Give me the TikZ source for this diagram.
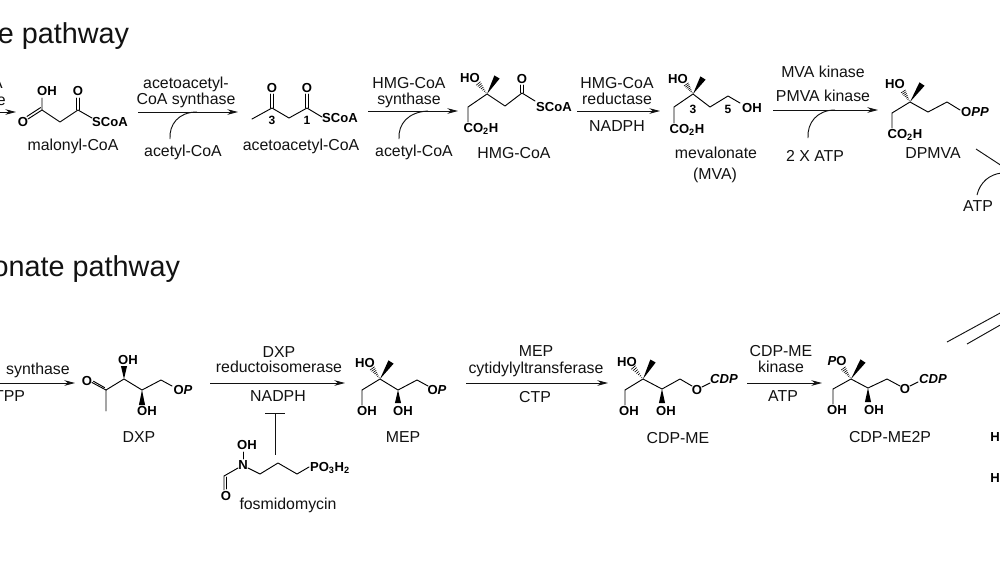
\documentclass[tikz,border=0pt]{standalone}
\usepackage{fontspec}
\setmainfont{Liberation Sans}
\usetikzlibrary{calc,arrows.meta}
\definecolor{ink}{gray}{0.07}
\tikzset{
  lbl/.style={inner sep=0pt,text=ink,font=\fontsize{11.9}{13}\selectfont,text height=0.716em,text depth=0pt},
  atom/.style={inner sep=0pt,text=black,font=\fontsize{9.8}{11}\selectfont\bfseries,text height=0.716em,text depth=0pt},
  smallnum/.style={inner sep=0pt,text=black,font=\fontsize{9}{11}\selectfont\bfseries,text height=0.716em,text depth=0pt},
  titletext/.style={inner sep=0pt,text=ink,font=\fontsize{21.6}{25}\selectfont,anchor=base west},
  bond/.style={line width=0.7pt,black,line cap=round,line join=round},
  rxn/.style={line width=0.7pt,ink,-{Stealth[length=8pt,width=4.2pt]}},
  cofactor/.style={line width=0.7pt,ink},
}
\newcommand{\wedgeb}[2]{\fill[black] #1 -- ($#2!2.3pt!90:#1$) -- ($#2!2.3pt!-90:#1$) -- cycle;}
\newcommand{\hashb}[2]{\foreach \hh in {0.12,0.26,0.40,0.54,0.68,0.82,0.96}{
  \draw[line width=0.45pt,black] ($#1!\hh!#2!{\hh*2.2pt}!90:#2$) -- ($#1!\hh!#2!{\hh*2.2pt}!-90:#2$);}}
\begin{document}
\begin{tikzpicture}[x=0.75pt,y=-0.75pt]
\useasboundingbox (0,0) rectangle (1000,562);
\clip (0,0) rectangle (1000,562);
\fill[white] (0,0) rectangle (1000,562);

% titles
\node[titletext] (t1) at (-2.5,43) {e pathway};
\node[titletext] (t2) at (-7.6,276) {onate pathway};

% ---------- upper row
\node[lbl,anchor=east] (l0a) at (3,84) {A};
\node[lbl,anchor=east] (l0b) at (6,101) {e};
\coordinate (a0s) at (-5,112); \coordinate (a0e) at (16,112);
\draw[rxn] (a0s) -- (a0e);

% malonyl-CoA
\node[atom] (m1) at (47,91) {OH};
\node[atom] (m2) at (23,122) {O};
\node[atom] (m3) at (78,91) {O};
\node[atom] (m4) at (110,122) {SCoA};
\draw[bond] (42,98) -- (42,110) -- (60,122) -- (78,110) -- (92,118);
\draw[bond] (42,110) -- (28,119);
\draw[bond] (40.6,107.6) -- (27,116.4);
\draw[bond] (76.6,110) -- (76.6,98) (79.4,110) -- (79.4,98);
\node[lbl] (m5) at (73,146) {malonyl-CoA};

% acetoacetyl-CoA synthase
\coordinate (a1s) at (138,112); \coordinate (a1e) at (238,112);
\draw[rxn] (a1s) -- (a1e);
\node[lbl] (e1a) at (186,84) {acetoacetyl-};
\node[lbl] (e1b) at (186,100) {CoA synthase};
\node[lbl] (c1) at (183,152) {acetyl-CoA};
\coordinate (c1s) at (170,139); \coordinate (c1e) at (197,112);
\draw[cofactor] (c1s) .. controls (169,125) and (178,112) .. (c1e);

% acetoacetyl-CoA
\node[atom] (aa1) at (272,88) {O};
\node[atom] (aa2) at (307,88) {O};
\node[atom] (aa3) at (340,118) {SCoA};
\node[smallnum] (aa4) at (272,120) {3};
\node[smallnum] (aa5) at (307,120) {1};
\draw[bond] (252,119) -- (272,108) -- (289,118) -- (307,108) -- (322,117);
\draw[bond] (270.6,108) -- (270.6,94) (273.4,108) -- (273.4,94);
\draw[bond] (305.6,108) -- (305.6,94) (308.4,108) -- (308.4,94);
\node[lbl] (aa6) at (301,146) {acetoacetyl-CoA};

% HMG-CoA synthase
\coordinate (a2s) at (368,111); \coordinate (a2e) at (458,111);
\draw[rxn] (a2s) -- (a2e);
\node[lbl] (e2a) at (409,84) {HMG-CoA};
\node[lbl] (e2b) at (409,100) {synthase};
\node[lbl] (c2) at (414,152) {acetyl-CoA};
\coordinate (c2s) at (399,139); \coordinate (c2e) at (428,111);
\draw[cofactor] (c2s) .. controls (398,124) and (408,112) .. (c2e);

% HMG-CoA
\node[atom] (h1) at (470,78) {HO};
\node[atom] (h2) at (481,128) {CO\textsubscript{2}H};
\node[atom] (h3) at (522,79) {O};
\node[atom] (h4) at (554,107) {SCoA};
\wedgeb{(487,94)}{(497,77)}
\hashb{(487,94)}{(478,83)}
\draw[bond] (468,122) -- (468,107) -- (487,94) -- (505,106) -- (522,93) -- (535,101);
\draw[bond] (520.6,93) -- (520.6,85) (523.4,93) -- (523.4,85);
\node[lbl] (h5) at (514,154) {HMG-CoA};

% HMG-CoA reductase
\coordinate (a3s) at (577,111); \coordinate (a3e) at (660,111);
\draw[rxn] (a3s) -- (a3e);
\node[lbl] (e3a) at (617,84) {HMG-CoA};
\node[lbl] (e3b) at (617,100) {reductase};
\node[lbl] (c3) at (617,127) {NADPH};

% mevalonate
\node[atom] (v1) at (678,79) {HO};
\node[atom] (v2) at (687,129) {CO\textsubscript{2}H};
\node[atom] (v3) at (752,108) {OH};
\node[smallnum] (v4) at (693,109) {3};
\node[smallnum] (v5) at (728,109) {5};
\wedgeb{(693,94)}{(703,78)}
\hashb{(693,94)}{(686,84)}
\draw[bond] (674,123) -- (674,107) -- (693,94) -- (710,107) -- (728,96) -- (740,103);
\node[lbl] (v6) at (716,154) {mevalonate};
\node[lbl] (v7) at (715,175) {(MVA)};

% MVA kinase
\coordinate (a4s) at (773,110); \coordinate (a4e) at (878,110);
\draw[rxn] (a4s) -- (a4e);
\node[lbl] (e4a) at (823,73) {MVA kinase};
\node[lbl] (e4b) at (823,97) {PMVA kinase};
\node[lbl] (c4) at (815,157) {2 X ATP};
\coordinate (c4s) at (808,138); \coordinate (c4e) at (835,110);
\draw[cofactor] (c4s) .. controls (807,123) and (817,110) .. (c4e);

% DPMVA
\node[atom] (d1) at (895,84) {HO};
\node[atom] (d2) at (905,134) {CO\textsubscript{2}H};
\node[atom] (d3) at (975,112) {O\textit{PP}};
\wedgeb{(910,102)}{(922,84)}
\hashb{(910,102)}{(903,91)}
\draw[bond] (892,128) -- (892,113) -- (910,102) -- (928,112) -- (947,102) -- (960,110);
\node[lbl] (d4) at (933,154) {DPMVA};

\coordinate (a5s) at (976,149); \coordinate (a5e) at (1002,166);
\draw[cofactor] (a5s) -- (a5e);
\node[lbl] (c5) at (978,207) {ATP};
\coordinate (c5s) at (977,195); \coordinate (c5e) at (1002,173);
\draw[cofactor] (c5s) .. controls (980,182) and (990,174) .. (c5e);

% ---------- lower row
\coordinate (b0s) at (-5,383); \coordinate (b0e) at (75,383);
\draw[rxn] (b0s) -- (b0e);
\node[lbl] (f0a) at (38,370) {synthase};
\node[lbl] (f0b) at (9.5,397) {TPP};

% DXP
\node[atom] (x1) at (87,381) {O};
\node[atom] (x2) at (128,360) {OH};
\node[atom] (x3) at (147,411) {OH};
\node[atom] (x4) at (183,390) {O\textit{P}};
\wedgeb{(124,379)}{(124,366)}
\wedgeb{(142,390)}{(142,405)}
\draw[bond] (106,411) -- (106,390) -- (124,379) -- (142,390) -- (161,380) -- (172,386);
\draw[bond] (106,390) -- (92,382.5);
\draw[bond] (104.6,387.6) -- (93.4,381.2);
\node[lbl] (x5) at (139,438) {DXP};

% DXP reductoisomerase
\coordinate (b1s) at (210,383); \coordinate (b1e) at (345,383);
\draw[rxn] (b1s) -- (b1e);
\node[lbl] (f1a) at (279,353) {DXP};
\node[lbl] (f1b) at (279,368) {reductoisomerase};
\node[lbl] (f1c) at (278,397) {NADPH};

% fosmidomycin
\coordinate (tb1) at (265,413); \coordinate (tb2) at (285,413);
\coordinate (tbm) at (275,413); \coordinate (tbe) at (275,455);
\draw[cofactor] (tb1) -- (tb2);
\draw[cofactor] (tbm) -- (tbe);
\node[atom] (fz1) at (247,445) {OH};
\node[atom] (fz2) at (243,465) {N};
\node[atom] (fz3) at (226,496) {O};
\node[atom] (fz4) at (330,467) {PO\textsubscript{3}H\textsubscript{2}};
\draw[bond] (243,452) -- (243,459);
\draw[bond] (238,468) -- (224,476) -- (224,490);
\draw[bond] (226.6,477) -- (226.6,489);
\draw[bond] (248,468) -- (260,474) -- (278,463) -- (297,474) -- (309,467);
\node[lbl] (fz5) at (288,505) {fosmidomycin};

% MEP
\node[atom] (p1) at (365,363) {HO};
\node[atom] (p2) at (367,411) {OH};
\node[atom] (p3) at (403,411) {OH};
\node[atom] (p4) at (437,390) {O\textit{P}};
\wedgeb{(380,379)}{(391,362)}
\hashb{(380,379)}{(372,368)}
\wedgeb{(398,390)}{(398,403)}
\draw[bond] (362,405) -- (362,390) -- (380,379) -- (398,390) -- (417,380) -- (428,386);
\node[lbl] (p5) at (403,438) {MEP};

% MEP cytidylyltransferase
\coordinate (b2s) at (466,383); \coordinate (b2e) at (608,383);
\draw[rxn] (b2s) -- (b2e);
\node[lbl] (f2a) at (536,352) {MEP};
\node[lbl] (f2b) at (536,369) {cytidylyltransferase};
\node[lbl] (f2c) at (535,398) {CTP};

% CDP-ME
\node[atom] (q1) at (627,362) {HO};
\node[atom] (q2) at (629,411) {OH};
\node[atom] (q3) at (666,411) {OH};
\node[atom] (q4) at (697,390) {O};
\node[atom] (q5) at (724,379) {\textit{CDP}};
\wedgeb{(643,379)}{(653,361)}
\hashb{(643,379)}{(633,367)}
\wedgeb{(662,389)}{(662,403)}
\draw[bond] (625,405) -- (625,390) -- (643,379) -- (662,389) -- (680,379) -- (692,386);
\draw[bond] (702,387) -- (710,383);
\node[lbl] (q6) at (678,439) {CDP-ME};

% CDP-ME kinase
\coordinate (b3s) at (747,383); \coordinate (b3e) at (822,383);
\draw[rxn] (b3s) -- (b3e);
\node[lbl] (f3a) at (781,352) {CDP-ME};
\node[lbl] (f3b) at (781,368) {kinase};
\node[lbl] (f3c) at (783,397) {ATP};

% CDP-ME2P
\node[atom] (r1) at (837,361) {\textit{P}O};
\node[atom] (r2) at (837,410) {OH};
\node[atom] (r3) at (874,410) {OH};
\node[atom] (r4) at (905,389) {O};
\node[atom] (r5) at (933,379) {\textit{CDP}};
\wedgeb{(851,379)}{(863,361)}
\hashb{(851,379)}{(843,368)}
\wedgeb{(868,388)}{(868,402)}
\draw[bond] (833,404) -- (833,389) -- (851,379) -- (868,388) -- (887,379) -- (900,386);
\draw[bond] (910,386) -- (918,382);
\node[lbl] (r6) at (890,438) {CDP-ME2P};

% right edge
\coordinate (k1s) at (947,342); \coordinate (k1e) at (1002,312);
\coordinate (k2s) at (967,344); \coordinate (k2e) at (1002,324);
\draw[cofactor] (k1s) -- (k1e);
\draw[cofactor] (k2s) -- (k2e);
\node[atom,anchor=west] (s1) at (990,437) {H};
\node[atom,anchor=west] (s2) at (990,478) {H};
\end{tikzpicture}
\end{document}
